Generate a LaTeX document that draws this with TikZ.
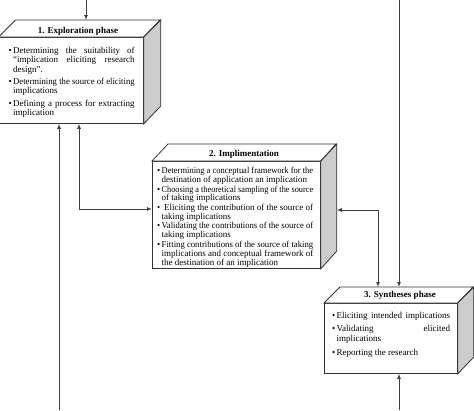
\documentclass[tikz,border=0pt]{standalone}
\usepackage{fontspec}
\usepackage{graphicx}
\setmainfont{Liberation Serif}
\usetikzlibrary{arrows.meta}
\newsavebox\jbox
\newlength\jwd
\newcommand\J[1]{\setlength\jwd{\dimexpr\hsize-4.5pt\relax}\sbox\jbox{#1}%
  \ifdim\wd\jbox>\jwd\resizebox{\jwd}{\height}{#1}\else\makebox[\jwd][s]{#1}\fi}
\newcommand\B{\par\hangindent=4.5pt\hangafter=1\noindent\makebox[4.5pt][l]{\textbullet}}
\newcommand\I[1]{\par\vspace{#1}}
\newcommand\mycuboid[7]{%
  \node[front, minimum width=#4pt, minimum height=#5pt] (#1) at (#2,#3) {};
  \draw[face] (#1.north west) -- ++(#6,-#7) -- ++(#4,0) -- (#1.north east) -- cycle;
  \draw[side] (#1.north east) -- ++(#6,-#7) -- ++(0,#5) -- (#1.south east) -- cycle;
}
\begin{document}
\begin{tikzpicture}[x=1pt,y=-1pt,
  face/.style={draw=black!80, line width=0.8pt, fill=white},
  side/.style={draw=black!80, line width=0.8pt, fill=black!20},
  front/.style={face, rectangle, inner sep=0pt, anchor=north west},
  ttl/.style={font=\fontsize{9}{10}\selectfont\bfseries, inner sep=0pt},
  body/.style={font=\fontsize{9}{#1}\selectfont, inner sep=0pt, anchor=north west, align=justify},
  conn/.style={draw=black!75, line width=0.9pt},
  arr/.style={conn, -{Latex[length=5pt,width=4pt]}},
  darr/.style={conn, {Latex[length=5pt,width=4pt]}-{Latex[length=5pt,width=4pt]}}
]
\useasboundingbox (0,0) rectangle (474,410);
\clip (0,0) rectangle (474,410);

% boxes
\mycuboid{f1}{-1.5}{37}{144.5}{86}{17}{17}
\mycuboid{f2}{152}{161}{168}{107}{16}{17}
\mycuboid{f3}{324}{303}{133}{70}{16}{16}

% titles
\node[ttl] (h1) at (78,31) {1. Exploration phase};
\node[ttl] (h2) at (244,154) {2. Implimentation};
\node[ttl] (h3) at (400,295) {3. Syntheses phase};

% contents
\node[body=9.2pt, text width=126pt] (x1) at (8.5,44.2) {%
\B\J{Determining the suitability of}\newline\J{“implication eliciting research}\newline design”.%
\I{3.4pt}\B\J{Determining the source of eliciting}\newline implications%
\I{3.4pt}\B\J{Defining a process for extracting}\newline implication\par};

\node[body=8.9pt, text width=156pt] (x2) at (157,164.5) {%
\B\J{Determining a conceptual framework for the}\newline destination of application an implication%
\I{0.6pt}\B\J{Choosing a theoretical sampling of the source}\newline of taking implications%
\I{0.6pt}\B\J{\hspace*{2.5pt}Eliciting the contribution of the source of}\newline taking implications%
\I{0.6pt}\B\J{Validating the contributions of the source of}\newline taking implications%
\I{0.6pt}\B\J{Fitting contributions of the source of taking}\newline\J{implications and conceptual framework of}\newline the destination of an implication\par};

\node[body=9.8pt, text width=118pt] (x3) at (332,308) {%
\B\J{Eliciting intended implications}%
\I{3.8pt}\B\J{Validating elicited}\newline implications%
\I{3.8pt}\B Reporting the research\par};

% connectors
\coordinate (in1) at (86,0);
\coordinate (t1) at (86,20);
\draw[arr] (in1) -- (t1);
\coordinate (in2) at (59,410);
\draw[arr] (in2) -- (in2 |- f1.south);
\coordinate (j1) at (79,209);
\draw[darr] (j1 |- f1.south) -- (j1) -- (j1 -| f2.west);
\path (f2.east) ++(16,0) coordinate (f2r);
\coordinate (j2) at (378,210);
\coordinate (t3a) at (378,287);
\draw[darr] (j2 -| f2r) -- (j2) -- (t3a);
\coordinate (in3) at (399,0);
\coordinate (t3b) at (399,287);
\draw[arr] (in3) -- (t3b);
\coordinate (in4) at (399,410);
\draw[arr] (in4) -- (in4 |- f3.south);
\end{tikzpicture}
\end{document}
